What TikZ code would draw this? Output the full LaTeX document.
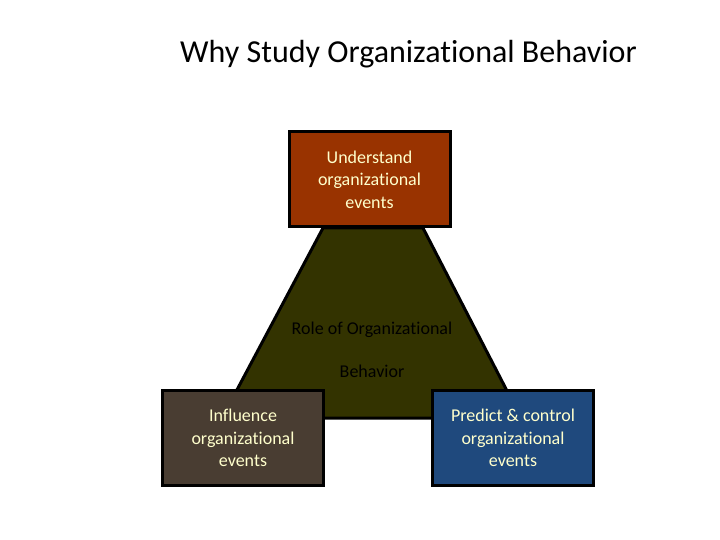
\documentclass[tikz,border=0pt]{standalone}
\usepackage{fontspec}
\setmainfont{Carlito}[Ligatures=NoCommon]
\usetikzlibrary{positioning}
\definecolor{myrust}{RGB}{153,51,0}
\definecolor{myolive}{RGB}{51,51,0}
\definecolor{mytaupe}{RGB}{73,61,50}
\definecolor{myblue}{RGB}{31,73,125}
\definecolor{mycream}{RGB}{255,255,204}

\begin{document}
\begin{tikzpicture}[
  x=1pt,y=-1pt,
  mybox/.style={
    draw,
    line width=3pt,
    fill=#1,
    minimum width=161pt,
    minimum height=95pt,
    text=mycream,
    align=center,
    font=\fontsize{18}{22.5}\selectfont
    },
  mytitle/.style={
    font=\fontsize{32}{36}\selectfont
    }
]
\useasboundingbox (0,0) rectangle (720,540);
\node[mytitle] (title) at (408.5,54) {Why Study Organizational Behavior};
% the trapezoid behind the three boxes
\draw[line width=3pt,fill=myolive,line join=miter]
  (323,228) coordinate (tl) -- (423,228) coordinate (tr)
  -- (521,418) coordinate (br) -- (222,418) coordinate (bl) -- cycle;
\node[align=center,font=\fontsize{18}{43}\selectfont]
  (role) at (372,349.5) {Role of Organizational\\Behavior};
\node[mybox=myrust] (understand) at (369.5,179.5)
  {Understand\\organizational\\events};
\node[mybox=mytaupe] (influence) at (243,438)
  {Influence\\organizational\\events};
\node[mybox=myblue] (predict) at (513,438)
  {Predict \& control\\organizational\\events};
\end{tikzpicture}
\end{document}
